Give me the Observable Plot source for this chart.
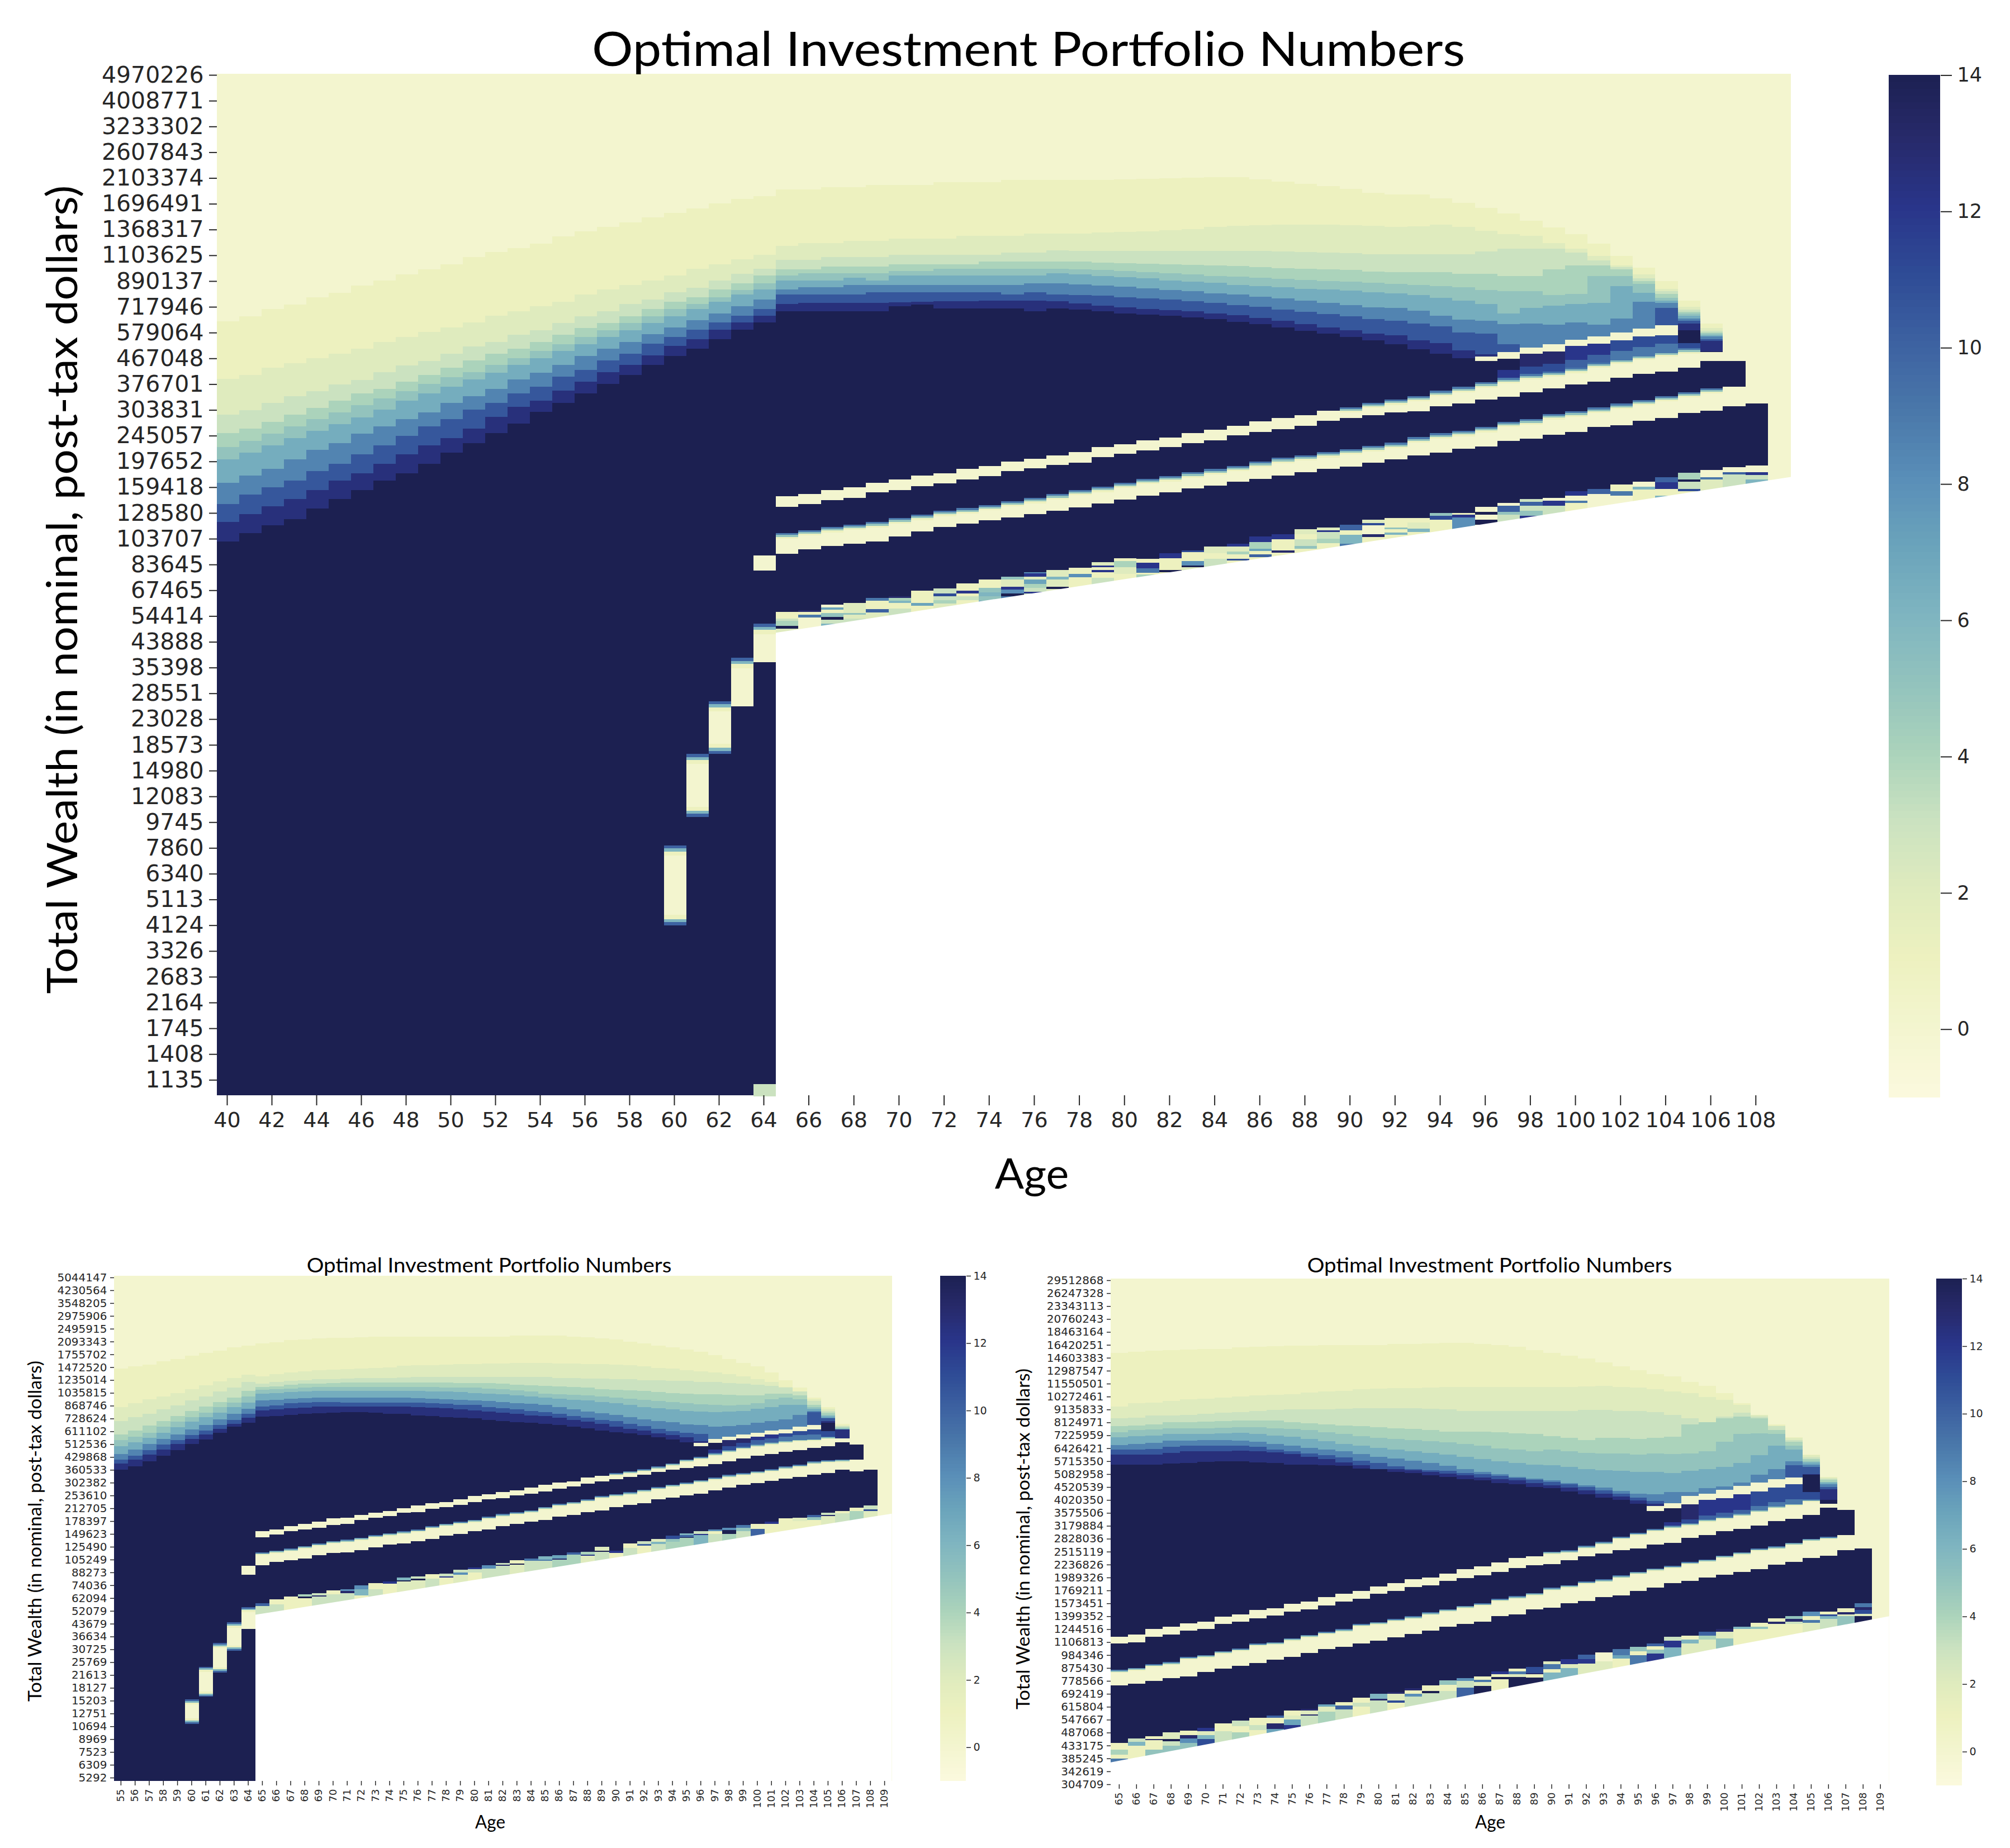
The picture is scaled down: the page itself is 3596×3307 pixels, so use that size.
<!DOCTYPE html>
<html><head><meta charset="utf-8">
<script src="https://cdn.jsdelivr.net/npm/d3@7"></script>
<script src="https://cdn.jsdelivr.net/npm/@observablehq/plot@0.6"></script>
<style>
html,body{margin:0;padding:0;background:#fff}
#page{position:relative;width:3596px;height:3307px;overflow:hidden;background:#fff}
.t{position:absolute;font-family:Lato,"Noto Sans",sans-serif;color:#000;white-space:nowrap;line-height:1}
</style></head><body><div id="page"></div>
<script>
const titleText="Optimal Investment Portfolio Numbers", xText="Age", yText="Total Wealth (in nominal, post-tax dollars)";
const colorStops=[-1,0,1,2,3,4,5,6,7,8,9,10,11,12,13,14];
const colorRamp=["#fbf9dd","#f3f5cf","#edf1bf","#dfebbe","#cbe2c0","#abd3bb","#93c3bd","#7fb5c0","#6ba4bb","#5a8fb8","#4a78aa","#3d62a1","#2f4c96","#29358a","#272a6b","#1c2051"];
const bandValues=[1,2,3,4,5,6.5,8.5,10.5,12.5,14];
const colorbarTicks=[0,2,4,6,8,10,12,14];

/* ---------- large chart: ages 40-109 ---------- */
const mainLabels=["4970226","4008771","3233302","2607843","2103374","1696491","1368317","1103625","890137","717946","579064","467048","376701","303831","245057","197652","159418","128580","103707","83645","67465","54414","43888","35398","28551","23028","18573","14980","12083","9745","7860","6340","5113","4124","3326","2683","2164","1745","1408","1135"];
const mainAgeTicks=[40,42,44,46,48,50,52,54,56,58,60,62,64,66,68,70,72,74,76,78,80,82,84,86,88,90,92,94,96,98,100,102,104,106,108];
const mainC1=[19.13,18.73,18.19,17.83,17.28,16.92,16.36,15.98,15.47,15.08,14.69,14.14,13.75,13.45,13.1,12.55,12.14,11.8,11.44,11.07,10.71,10.35,9.98,9.61,9.41,8.91,8.91,8.72,8.72,8.53,8.53,8.53,8.33,8.33,8.33,8.17,8.17,8.17,8.15,8.13,8.11,8.05,8.0,7.96,7.94,7.94,8.1,8.3,8.44,8.63,8.86,9.13,9.26,9.26,9.6,9.94,10.34,10.76,11.3,11.84,12.37,13.1,14.05,14.97,16.0,17.5,19.31];
const mainC2=[23.6,23.28,22.72,22.36,21.98,21.62,21.26,20.72,20.33,19.97,19.61,19.23,18.7,18.33,17.97,17.61,17.06,16.67,16.31,15.98,15.59,15.04,14.69,14.33,13.95,13.27,13.06,13.06,12.87,12.87,12.7,12.7,12.7,12.51,12.51,12.51,12.33,12.33,12.3,12.25,12.18,12.15,12.04,11.95,11.8,11.72,11.65,11.62,11.6,11.6,11.65,11.72,11.8,11.76,11.64,11.8,12.1,12.37,12.5,13.05,13.5,14.05,14.77,15.5,16.6,18.0,19.65];
const mainC3=[26.36,26.03,25.47,24.92,24.56,24.01,23.66,23.08,22.56,22.2,21.63,21.06,20.72,20.18,19.82,19.27,18.72,18.33,17.78,17.44,16.89,16.53,15.98,15.44,15.05,14.36,14.36,14.14,14.14,14.14,13.97,13.97,13.97,13.97,13.97,13.78,13.78,13.61,13.65,13.65,13.65,13.65,13.65,13.65,13.65,13.65,13.65,13.7,13.75,13.8,13.85,13.9,13.9,13.9,13.9,13.9,13.7,13.5,13.5,13.5,13.8,14.4,14.9,15.8,16.8,18.2,19.85];
const mainC4=[27.8,27.45,26.94,26.36,25.83,25.28,24.73,24.37,23.83,23.28,22.72,22.17,21.63,21.27,20.72,20.18,19.64,19.27,18.72,18.15,17.61,17.25,16.67,16.16,15.59,15.08,15.08,14.89,14.89,14.89,14.69,14.69,14.69,14.69,14.5,14.5,14.5,14.5,14.5,14.55,14.6,14.65,14.7,14.75,14.8,14.85,14.9,15.0,15.05,15.1,15.15,15.25,15.3,15.3,15.3,15.45,15.45,15.6,15.6,15.1,14.77,14.77,15.1,16.0,17.0,18.4,20.0];
const mainC5=[28.89,28.39,27.84,27.26,26.72,26.19,25.64,25.09,24.56,23.98,23.47,23.07,22.53,22.0,21.44,20.89,20.33,19.81,19.27,18.72,18.15,17.78,17.25,16.7,16.16,15.59,15.41,15.41,15.41,15.41,15.23,15.23,15.05,15.05,15.05,15.05,15.05,15.05,15.1,15.15,15.2,15.3,15.4,15.5,15.6,15.65,15.75,15.85,15.9,16.0,16.05,16.15,16.2,16.3,16.4,16.5,16.7,16.77,16.77,17.1,17.0,15.6,15.6,16.2,17.3,18.5,20.1];
const mainC6=[29.83,29.33,28.75,28.21,27.64,27.11,26.58,26.0,25.28,24.73,24.19,23.64,23.11,22.53,22.0,21.44,20.89,20.33,19.81,19.27,18.72,18.15,17.61,17.06,16.67,15.95,15.95,15.95,15.76,15.95,15.59,15.59,15.59,15.59,15.59,15.59,15.59,15.41,15.5,15.6,15.7,15.8,15.95,16.05,16.15,16.3,16.4,16.5,16.6,16.65,16.75,16.85,16.95,17.1,17.3,17.5,17.8,18.5,18.1,17.9,17.8,17.7,16.4,16.9,17.5,18.7,20.2];
const mainC8=[31.67,31.1,30.56,29.83,29.11,28.56,27.84,27.26,26.72,26.19,25.45,24.92,24.37,23.64,23.11,22.53,21.8,21.25,20.72,20.14,19.61,19.06,18.51,17.97,17.42,16.67,16.5,16.5,16.31,16.31,16.31,16.31,16.31,16.31,16.31,16.31,16.17,16.17,16.25,16.35,16.45,16.55,16.7,16.8,16.95,17.05,17.2,17.35,17.5,17.7,17.85,18.05,18.1,18.3,18.7,19.0,19.1,19.35,19.3,19.4,19.2,19.4,18.9,17.6,17.7,18.9,20.3];
const mainC10=[33.3,32.58,32.0,31.47,30.74,30.2,29.47,28.75,28.03,27.3,26.72,26.0,25.45,24.73,24.19,23.4,22.89,22.17,21.62,20.86,20.33,19.78,19.23,18.7,18.15,17.03,17.03,17.03,17.03,16.86,16.86,16.86,16.86,16.86,16.86,17.03,16.86,17.03,17.1,17.15,17.25,17.35,17.45,17.55,17.7,17.85,18.0,18.2,18.4,18.55,18.75,18.95,19.1,19.3,19.5,20.0,20.1,20.9,21.15,20.91,20.55,20.31,20.01,19.71,18.1,19.1,20.5];
const mainC12=[34.7,34.1,33.48,32.94,32.22,31.47,30.92,30.2,29.47,28.75,28.17,27.45,26.54,25.78,25.28,24.52,23.8,23.06,22.53,21.78,21.05,20.5,19.78,19.23,18.7,17.76,17.7,17.68,17.68,17.68,17.64,17.6,17.58,17.58,17.54,17.54,17.54,17.58,17.75,17.9,18.05,18.15,18.25,18.35,18.5,18.65,18.85,19.1,19.35,19.6,19.8,20.1,20.2,20.6,20.8,21.4,21.7,21.51,21.15,20.91,20.55,20.31,20.01,19.71,19.45,19.3,20.65];
const mainC14=[36.2,35.55,34.97,34.46,33.67,32.94,32.22,31.5,30.92,30.2,29.33,28.6,27.8,27.08,26.17,25.45,24.73,24.0,23.28,22.53,21.8,21.27,20.5,19.78,19.23,18.33,18.33,18.33,18.33,18.33,17.97,17.83,18.12,18.12,18.12,18.12,18.33,18.12,18.2,18.35,18.5,18.6,18.7,18.8,18.95,19.15,19.35,19.6,19.85,20.1,20.35,20.6,20.9,21.3,21.65,22.0,21.87,21.51,21.15,20.91,20.55,20.31,20.01,19.71,19.45,19.81,21.45];
const mainStripeA=[[21.87,22.22],[21.51,22.05],[21.15,21.65],[20.91,21.45],[20.55,21.05],[20.31,20.85],[20.01,20.61],[19.71,20.31],[19.45,20.21]];
const mainMid=[14,13,13,12,12,11,11,11];
const mainStripeB=[[32.71,33.51],[32.54,33.33],[32.21,33.01],[32.01,32.84],[31.64,32.41],[31.41,32.21],[31.09,31.91],[30.92,31.71],[30.59,31.39],[30.34,31.14],[30.02,30.77],[29.8,30.54],[29.52,30.27],[29.27,30.1],[28.9,29.65],[28.68,29.42],[28.35,29.15],[28.15,28.9],[27.78,28.6],[27.53,28.35],[27.23,27.98],[26.91,27.73],[26.61,27.48],[26.41,27.23],[26.06,26.86],[25.79,26.61],[25.44,26.41],[25.19,26.21],[24.92,26.12],[24.52,25.72],[24.22,25.52],[23.86,25.18],[23.52,24.98],[23.22,24.62],[23.02,24.32],[22.72,24.02],[22.32,23.82],[22.01,23.52],[21.71,23.22],[21.45,23.02],[21.21,22.72],[21.51,22.22],[21.71,22.22]];
const mainStripeC=[[35.57,37.19],[35.33,36.82],[35.08,36.57],[34.9,36.4],[34.7,36.2],[34.4,35.82],[34.13,35.45],[33.83,35.08],[33.63,34.83],[33.38,34.58],[33.08,34.33],[32.83,34.08],[32.54,33.83],[32.21,33.58],[31.96,33.26],[31.64,32.96],[31.34,32.66],[31.14,32.41],[30.84,32.09],[30.59,31.89],[30.34,31.59],[30.02,31.34],[29.72,31.09],[29.52,30.84],[29.27,30.59],[29.05,30.39],[28.8,30.1],[28.55,29.85],[28.12,29.52],[27.82,29.32],[27.62,29.02],[27.32,28.82],[26.92,28.42],[26.72,28.22],[26.32,27.92],[26.12,27.72],[25.82,27.32],[25.52,27.18],[25.22,26.86],[24.92,26.62],[24.62,26.26],[24.32,26.06],[24.22,25.72]];
const mainColumnStripes=[[60,59.8,66,1],[61,52.7,57.6,1],[62,48.6,52.7,1],[63,45.25,49,0],[64,42.6,45.6,0]];
const mainExtras=[[64,37.3,38.45,0],[64,78.35,79.3,3],[105,20.81,21.21,11]];
const mainTail=[[107,22.22,24.22],[107,25.72,30.46],[108,25.52,30.32]];
const mainEdge=[{age:65,row:43.3},{age:110,row:31.2}];
const mainNoise=[
[65,41.69,1,42.2,3,42.37,4,42.78,14,42.99,2],[66,41.55,13,41.69,1,41.91,9,42.13,0],[67,41.11,0,41.33,7,41.5,1,41.77,5,42.05,14,42.27,3,42.6,6],[68,40.97,2,41.77,5,41.91,2,42.2,3],
[69,40.61,9,40.83,1,41.48,10,41.74,2],[70,40.46,13,40.61,4,40.83,6,40.97,1,41.4,3],[71,40.03,1,40.97,7,41.19,1],[72,39.88,3,40.25,11,40.46,3,40.75,4,41.04,2],
[73,39.48,1,40.03,12,40.25,1,40.46,3,40.75,1],[74,39.16,1,39.81,5,40.17,6,40.46,5,40.83,7],[75,38.95,5,39.16,2,39.71,12,39.96,8,40.25,14,40.46,9],[76,38.58,8,38.7,12,38.95,2,39.16,7,39.52,4,39.81,3,40.1,12,40.25,3],
[77,38.44,2,38.95,6,39.16,2,39.71,14,39.89,2],[78,38.25,1,38.73,8,38.99,1],[79,37.82,2,38.08,12,38.22,1,38.44,12,38.61,1,39.02,3],[80,37.5,1,37.72,4,38.22,2,38.73,1],
[81,37.43,14,37.54,1,37.86,12,38.3,9,38.66,1,38.76,4],[82,37.14,12,37.5,1,38.44,14,38.58,1],[83,36.92,11,37.02,1,37.72,8,38.08,14,38.22,2],[84,36.59,2,37.14,1,37.57,3],
[85,36.41,12,36.59,2,36.99,4,37.21,1,37.54,11,37.69,1],[86,35.84,12,36.24,4,36.78,7,36.96,1,37.21,10,37.43,1],[87,35.66,12,36.05,1,36.92,13,37.1,1],[88,35.26,2,35.66,1,36.05,3,36.56,5,36.78,1],
[89,35.11,2,35.33,12,35.47,3,35.98,4,36.34,1],[90,34.9,10,35.33,1,35.69,6,36.41,9],[91,34.53,2,34.78,11,34.94,0,35.65,13,35.86,1],[92,34.39,1,35.11,5,35.26,1,35.52,6,35.69,1],
[93,34.39,1,34.73,2,35.23,6,35.47,1],[94,33.99,5,34.23,11,34.53,1],[95,33.99,1,34.13,12,34.37,8],[96,33.53,0,33.93,14,34.13,0,34.53,14,34.93,1],
[97,33.23,0,33.43,10,33.93,5,34.13,3],[98,32.93,3,33.13,10,33.43,3,33.83,5,34.23,12],[99,32.83,0,33.07,12,33.43,3],[100,32.33,12,32.67,0,33.03,9,33.23,1],
[101,32.13,10,32.53,0],[102,31.78,1,32.33,9,32.67,0],[103,31.58,0,31.98,6,32.18,1],[104,31.22,10,31.62,12,32.13,1,32.67,6],
[105,30.86,4,31.38,14,31.58,3,32.13,11,32.33,1],[106,30.66,0,31.22,9,31.42,2],[107,30.46,0,30.82,10,31.02,3],[108,30.32,0,30.82,12,31.06,3,31.42,6]];

/* ---------- lower left chart: ages 55-109 ---------- */
const leftLabels=["5044147","4230564","3548205","2975906","2495915","2093343","1755702","1472520","1235014","1035815","868746","728624","611102","512536","429868","360533","302382","253610","212705","178397","149623","125490","105249","88273","74036","62094","52079","43679","36634","30725","25769","21613","18127","15203","12751","10694","8969","7523","6309","5292"];
const leftC1=[7.1,6.95,6.8,6.55,6.35,6.1,5.9,5.7,5.45,5.3,5.15,5.05,4.9,4.85,4.75,4.7,4.7,4.65,4.6,4.6,4.6,4.6,4.6,4.6,4.6,4.6,4.6,4.6,4.55,4.55,4.55,4.55,4.6,4.65,4.75,4.85,5.0,5.15,5.3,5.45,5.6,5.8,6.05,6.35,6.65,6.95,7.4,8.0,8.6,9.35,10.1,11.4];
const leftC2=[10.1,9.8,9.5,9.3,9.0,8.7,8.4,8.1,7.85,7.6,7.7,7.55,7.4,7.3,7.25,7.2,7.15,7.1,7.05,7.0,6.9,6.85,6.85,6.8,6.75,6.75,6.7,6.7,6.65,6.65,6.65,6.7,6.7,6.75,6.75,6.8,6.85,6.95,7.05,7.1,7.25,7.3,7.4,7.55,7.7,7.95,8.15,8.55,8.9,9.5,10.25,11.55];
const leftC3=[11.2,10.9,10.65,10.3,10.0,9.6,9.3,8.9,8.6,8.15,8.3,8.15,8.05,8.0,7.95,7.95,7.9,7.85,7.85,7.85,7.8,7.75,7.75,7.75,7.75,7.75,7.75,7.75,7.75,7.75,7.75,7.85,7.85,7.9,7.9,7.95,7.95,8.0,8.0,8.05,8.05,8.15,8.15,8.25,8.3,8.35,8.45,8.6,8.9,9.65,10.4,11.6];
const leftC4=[12.25,11.95,11.55,11.2,10.8,10.4,10.05,9.7,9.35,8.85,8.55,8.5,8.35,8.3,8.3,8.25,8.2,8.2,8.2,8.2,8.2,8.2,8.2,8.2,8.25,8.25,8.25,8.3,8.35,8.4,8.45,8.5,8.55,8.6,8.7,8.75,8.8,8.85,8.95,9.0,9.05,9.1,9.1,9.15,9.2,9.2,9.05,9.05,9.2,9.95,10.55,11.7];
const leftC5=[12.7,12.4,12.1,11.65,11.25,10.9,10.55,10.1,9.75,9.3,8.75,8.7,8.65,8.6,8.55,8.55,8.55,8.55,8.55,8.55,8.55,8.55,8.55,8.6,8.6,8.6,8.65,8.7,8.8,8.9,9.05,9.1,9.15,9.2,9.3,9.35,9.45,9.55,9.65,9.7,9.8,9.9,9.95,10.0,9.95,9.8,9.5,9.35,9.5,10.1,10.7,11.75];
const leftC6=[13.15,12.85,12.5,12.1,11.7,11.25,10.9,10.55,10.1,9.75,9.05,9.0,8.95,8.9,8.85,8.85,8.85,8.85,8.85,8.85,8.85,8.85,8.9,8.9,8.95,9.0,9.05,9.1,9.2,9.3,9.35,9.45,9.55,9.6,9.7,9.8,9.95,10.1,10.2,10.3,10.4,10.45,10.5,10.45,10.4,10.25,10.1,9.95,9.95,10.25,10.8,11.8];
const leftC8=[13.75,13.4,13.0,12.6,12.25,11.85,11.5,11.05,10.65,10.25,9.6,9.55,9.45,9.4,9.35,9.35,9.35,9.35,9.35,9.35,9.35,9.4,9.45,9.5,9.55,9.6,9.65,9.7,9.8,9.85,9.95,10.1,10.3,10.45,10.6,10.7,10.9,11.05,11.2,11.3,11.45,11.5,11.65,11.6,11.5,11.35,11.2,11.05,10.7,10.4,10.95,11.85];
const leftC10=[14.2,13.9,13.45,13.05,12.7,12.3,11.95,11.5,11.1,10.65,10.05,10.0,9.8,9.75,9.7,9.7,9.75,9.75,9.75,9.75,9.75,9.75,9.8,9.85,9.95,9.95,10.1,10.2,10.3,10.4,10.5,10.65,10.8,10.95,11.1,11.2,11.4,11.6,11.8,12.0,12.1,12.2,12.6,12.4,12.25,12.1,11.95,11.85,11.65,10.5,11.0,11.7];
const leftC12=[14.5,14.2,13.8,13.4,13.0,12.6,12.25,11.8,11.4,10.95,10.35,10.3,10.2,10.15,10.05,10.05,10.05,10.05,10.05,10.05,10.05,10.1,10.15,10.2,10.3,10.35,10.45,10.55,10.65,10.75,10.8,10.95,11.1,11.25,11.4,11.65,11.8,11.95,12.15,12.3,12.45,12.75,12.6,12.4,12.25,12.1,11.95,11.85,11.65,11.5,11.2,11.85];
const leftC14=[15.0,14.75,14.35,13.9,13.45,13.0,12.65,12.1,11.65,11.35,10.85,10.8,10.7,10.65,10.6,10.55,10.5,10.5,10.55,10.65,10.65,10.75,10.8,10.9,10.95,11.0,11.1,11.2,11.3,11.35,11.4,11.5,11.65,11.75,11.95,12.05,12.15,12.3,12.45,12.65,12.85,12.9,12.6,12.4,12.25,12.1,11.95,11.85,11.65,11.5,11.35,12.55];
const leftStripeA=[[12.9,13.15],[12.6,12.9],[12.4,12.7],[12.25,12.55],[12.1,12.4],[11.95,12.25],[11.85,12.15],[11.65,12.0],[11.5,11.85]];
const leftMid=[14,13,13,12,12,11,11,11];
const leftStripeB=[[19.8,20.25],[19.65,20.05],[19.4,19.8],[19.2,19.65],[19.05,19.5],[18.8,19.3],[18.75,19.2],[18.5,18.9],[18.35,18.75],[18.2,18.6],[18.0,18.35],[17.8,18.3],[17.6,18.05],[17.5,17.9],[17.3,17.75],[17.05,17.5],[16.9,17.3],[16.75,17.2],[16.6,17.0],[16.4,16.85],[16.15,16.7],[16.0,16.45],[15.9,16.3],[15.6,16.1],[15.45,15.9],[15.25,15.75],[15.1,15.55],[14.95,15.4],[14.75,15.15],[14.5,15.0],[14.2,14.85],[14.0,14.75],[13.7,14.55],[13.45,14.35],[13.2,14.1],[13.0,13.9],[12.85,13.75],[12.7,13.6],[12.6,13.45],[12.55,13.3],[12.4,13.15],[12.55,12.85],[12.85,13.05]];
const leftStripeC=[[21.45,22.45],[21.3,22.2],[21.15,22.05],[20.95,21.9],[20.75,21.65],[20.55,21.5],[20.45,21.45],[20.3,21.25],[20.1,21.05],[19.95,20.85],[19.8,20.75],[19.65,20.55],[19.4,20.4],[19.2,20.15],[19.05,20.0],[18.9,19.8],[18.65,19.65],[18.45,19.4],[18.3,19.2],[18.15,19.05],[17.9,18.9],[17.65,18.65],[17.5,18.5],[17.3,18.3],[17.05,18.15],[16.9,17.9],[16.75,17.75],[16.55,17.6],[16.35,17.3],[16.15,17.15],[16.0,17.0],[15.8,16.85],[15.6,16.6],[15.4,16.4],[15.25,16.15],[15.1,16.05],[14.95,15.85],[14.75,15.7],[14.6,15.55],[14.35,15.4],[14.25,15.25],[14.2,15.0],[14.2,15.1]];
const leftColumnStripes=[[60,32.9,34.8,1],[61,30.35,32.7,1],[62,28.5,30.8,1],[63,26.9,29.1,1],[64,25.7,27.4,0]];
const leftExtras=[[64,22.5,23.2,0],[105,12.0,12.4,11]];
const leftTail=[[107,13.05,14.2],[107,15.1,17.95],[108,15.0,17.8]];
const leftEdge=[{age:65,row:26.3},{age:110,row:18.42}];
const leftNoise=[
[65,25.4,10,25.6,3],[66,25.1,1,25.5,3],[67,24.9,1,25.4,1],[68,24.7,4,24.9,14,25.0,1],[69,24.6,3,24.8,13,24.9,3],[70,24.4,1,24.7,3],[71,24.3,8,24.45,13,24.6,3],[72,24.0,8,24.3,6,24.8,1],[73,23.85,1,24.3,3],[74,23.7,12,23.9,1],
[75,23.4,6,23.6,14,23.7,2],[76,23.3,3,23.5,14,23.6,2],[77,23.15,1,23.5,3],[78,23.0,14,23.1,3,23.3,12,23.4,1],[79,22.8,3,23.0,8,23.2,2],[80,22.6,12,22.75,3,23.0,1],[81,22.45,8,22.7,3],[82,22.25,3,22.4,13,22.5,3],[83,22.05,1,22.3,14,22.4,2],[84,21.9,9,22.1,3],
[85,21.75,6,22.0,9,22.1,3],[86,21.65,7,21.9,13,22.0,4],[87,21.45,10,21.6,4],[88,21.3,14,21.4,4,21.6,12,21.7,2],[89,21.0,2,21.3,14,21.4,3],[90,20.9,14,21.3,12,21.5,1],[91,20.75,1,21.1,3],[92,20.55,3,20.8,10,20.9,1],[93,20.4,2,20.6,6,20.8,3],[94,20.15,11,20.4,5,20.6,4],
[95,19.95,6,20.1,10,20.25,14,20.3,4],[96,19.8,3,20.0,12,20.1,6],[97,19.65,8,19.8,1,20,3],[98,19.5,8,19.7,14,20,4],[99,19.3,9,19.5,5,19.8,3],[100,19.2,1,19.6,10],[101,19.05,12,19.2,1],[102,18.8,1],[103,18.75,2,19,1],[104,18.5,10,18.7,5,18.9,1],
[105,18.35,3,18.5,13,18.6,2],[106,18.2,1,18.4,3],[107,17.95,1,18.2,4],[108,17.8,3,18.1,11,18.2,2]];

/* ---------- lower right chart: ages 65-109 ---------- */
const rightLabels=["29512868","26247328","23343113","20760243","18463164","16420251","14603383","12987547","11550501","10272461","9135833","8124971","7225959","6426421","5715350","5082958","4520539","4020350","3575506","3179884","2828036","2515119","2236826","1989326","1769211","1573451","1399352","1244516","1106813","984346","875430","778566","692419","615804","547667","487068","433175","385245","342619","304709"];
const rightC1=[5.6,5.55,5.45,5.4,5.35,5.3,5.3,5.2,5.15,5.1,5.05,5.05,5.0,5.0,5.0,5.0,4.95,4.95,4.9,4.85,4.85,4.95,5.0,5.15,5.4,5.6,5.85,6.05,6.35,6.65,6.95,7.25,7.45,7.85,8.15,8.75,9.5,10.4,11.15,12.15,13.5,15.2];
const rightC2=[9.75,9.5,9.45,9.35,9.2,9.15,9.1,9.0,8.9,8.85,8.8,8.7,8.6,8.55,8.45,8.4,8.35,8.35,8.3,8.25,8.25,8.25,8.25,8.25,8.25,8.25,8.25,8.2,8.15,8.25,8.3,8.45,8.6,8.75,9.05,9.25,9.65,10.4,11.25,12.2,13.55,15.25];
const rightC3=[10.7,10.65,10.45,10.45,10.4,10.35,10.25,10.2,10.1,10.05,10.0,10.0,10.0,9.95,9.9,9.9,9.9,9.9,9.95,10.0,10.1,10.1,10.1,10.1,10.1,10.1,10.1,10.05,10.05,10.1,10.1,10.2,10.4,10.7,11.0,10.55,10.25,10.55,11.3,12.35,13.7,15.35];
const rightC4=[11.3,11.25,11.15,11.0,11.0,10.95,10.9,10.85,10.85,10.85,11.0,11.05,11.15,11.25,11.3,11.35,11.45,11.5,11.6,11.7,11.7,11.7,11.75,11.85,11.9,12.05,12.2,12.35,12.2,12.2,12.3,12.2,12.1,11.15,11.0,10.7,10.55,10.7,11.6,12.5,13.85,15.45];
const rightC5=[11.75,11.6,11.55,11.45,11.45,11.45,11.4,11.35,11.35,11.45,11.5,11.6,11.75,11.9,12.05,12.2,12.3,12.35,12.45,12.55,12.65,12.8,13.0,13.1,13.25,13.1,13.25,13.35,13.4,13.4,13.5,13.4,13.45,13.4,13.25,12.5,11.9,11.85,11.9,12.8,14.0,15.6];
const rightC6=[12.15,12.05,12.0,11.9,11.9,11.9,11.85,11.8,11.9,12.0,12.1,12.3,12.45,12.65,12.8,12.95,13.1,13.25,13.35,13.5,13.65,13.85,14.0,14.15,14.25,14.3,14.45,14.6,14.7,14.75,14.85,14.85,14.9,14.75,14.6,14.45,14.15,13.55,12.8,13.1,14.1,15.65];
const rightC8=[12.75,12.65,12.6,12.4,12.4,12.35,12.35,12.4,12.5,12.65,12.8,12.95,13.1,13.25,13.45,13.65,13.8,13.95,14.15,14.35,14.6,14.85,15.0,15.2,15.35,15.5,15.7,15.85,16.05,16.3,16.5,16.55,16.4,16.4,16.1,15.95,15.65,15.05,14.6,14.0,14.25,15.8];
const rightC10=[13.1,13.1,13.05,12.9,12.8,12.8,12.8,12.8,12.9,13.1,13.25,13.4,13.55,13.7,13.95,14.15,14.4,14.6,14.7,14.75,14.9,15.0,15.15,15.3,15.45,15.6,15.8,16.0,16.25,16.5,16.8,17.1,17.25,16.7,16.5,16.2,15.9,15.65,15.4,14.3,14.45,16.0];
const rightC12=[13.5,13.5,13.5,13.35,13.25,13.25,13.25,13.2,13.25,13.3,13.45,13.65,13.85,14.1,14.3,14.6,14.6,14.7,14.85,14.95,15.1,15.25,15.4,15.5,15.7,15.85,16.05,16.25,16.5,16.75,17.05,17.3,17.15,16.7,16.5,16.2,15.9,15.65,15.4,15.25,15.0,16.15];
const rightC14=[14.25,14.25,14.25,14.2,14.15,14.05,14.0,14.0,14.1,14.15,14.25,14.25,14.3,14.35,14.55,14.6,14.85,14.9,15.1,15.2,15.4,15.5,15.7,15.8,16.0,16.1,16.35,16.55,16.8,17.0,17.3,17.45,17.25,16.7,16.5,16.2,15.9,15.65,15.4,15.25,15.05,17.0];
const rightStripeA=[[17.45,17.85],[17.25,17.65],[16.7,17.35],[16.5,17.0],[16.2,16.85],[15.9,16.55],[15.65,16.35],[15.4,16.05],[15.25,15.8]];
const rightMid=[14,13,12,12,12,11,11,11];
const rightStripeB=[[27.6,28.1],[27.4,28.0],[27.0,27.6],[26.8,27.4],[26.55,27.1],[26.4,27.0],[26.05,26.6],[25.85,26.4],[25.5,26.15],[25.4,25.95],[25.05,25.65],[24.85,25.45],[24.5,25.15],[24.25,24.85],[24.05,24.65],[23.7,24.25],[23.45,24.05],[23.15,23.75],[23.0,23.6],[22.7,23.25],[22.35,23.05],[22.15,22.85],[21.85,22.55],[21.5,22.25],[21.35,22.05],[21.0,21.95],[20.9,21.65],[20.55,21.35],[20.25,21.15],[19.85,20.9],[19.55,20.75],[19.25,20.45],[19.0,20.3],[18.8,19.95],[18.5,19.7],[18.3,19.4],[18.05,19.25],[17.75,19.0],[17.45,18.65],[17.25,18.45],[16.95,18.15],[17.3,17.6],[17.45,17.75]];
const rightStripeC=[[30.15,31.35],[30.0,31.2],[29.7,31.0],[29.55,30.8],[29.15,30.65],[29.0,30.3],[28.7,30.05],[28.5,29.85],[28.1,29.6],[28.0,29.35],[27.7,29.15],[27.45,28.85],[27.2,28.55],[27.0,28.35],[26.6,28.1],[26.45,27.9],[26.2,27.65],[26.0,27.35],[25.7,27.1],[25.45,26.8],[25.2,26.6],[25.0,26.4],[24.65,26.0],[24.45,25.85],[24.2,25.45],[23.8,25.35],[23.6,25.0],[23.3,24.8],[23.15,24.5],[22.85,24.4],[22.55,24.05],[22.3,23.8],[22.1,23.45],[21.8,23.25],[21.6,23.0],[21.3,22.8],[21.05,22.55],[20.75,22.35],[20.6,22.0],[20.3,21.8],[20.0,21.5],[19.85,21.3],[19.7,20.9]];
const rightColumnStripes=[];
const rightExtras=[[105,16.4,16.95,11]];
const rightTail=[[107,17.75,19.7],[107,20.9,25.4],[108,20.76,25.0]];
const rightEdge=[{age:65,row:37.3},{age:110,row:26.0}];
const rightNoise=[
[65,35.8,1,36.3,4,36.7,1,37,9],[66,35.45,3,35.7,6,36,1],[67,35.3,1,35.5,13,35.6,1,36.3,5],[68,35,2,35.5,14,35.65,3,36,5],[69,34.85,1,35.2,13,35.45,8,35.8,5],[70,34.65,12,34.9,2,35.2,6,35.5,11],[71,34.3,1,34.9,3],[72,34.05,3,34.5,1,35,4],[73,33.85,1,34.4,3,34.8,1],[74,33.7,10,33.85,1,34.3,13,34.7,7],
[75,33.3,1,33.7,2,34,7,34.4,12],[76,33.15,13,33.3,2,33.6,13,33.7,3],[77,32.8,7,33,2,33.4,4],[78,32.65,1,32.9,10,33.2,3],[79,32.3,1,32.7,3,33,1],[80,32,6,32.4,13,32.5,3],[81,31.85,13,32,2,32.5,11,32.7,1],[82,31.55,13,31.75,1,32,8,32.2,3],[83,31.35,1,31.8,14,31.95,3],[84,30.95,5,31.3,1,31.8,3],
[85,30.8,8,31,3,31.5,10],[86,30.65,1,30.9,9,31.1,2,31.4,14],[87,30.25,12,30.5,1,30.7,14,30.85,1],[88,30.05,1,30.25,9,30.5,2,30.7,14],[89,29.9,11,30.4,13,30.5,1,30.75,14],[90,29.5,2,29.7,9,30.1,1,30.35,6],[91,29.3,12,29.7,2,30,6],[92,28.95,10,29.3,12,29.65,2],[93,28.8,0,29.5,2],[94,28.55,9,29,7,29.25,1],
[95,28.35,5,28.7,1,29,9],[96,28.1,10,28.3,1,28.6,5,28.9,12],[97,27.6,3,27.9,12,28.4,6],[98,27.5,1,27.8,6,28.1,2],[99,27.2,10,27.5,4,27.8,2],[100,27,13,27.2,2,27.7,5],[101,26.8,6,27,1],[102,26.5,1,26.8,5,27,1],[103,26.15,1,26.4,13,26.6,1],[104,26,5,26.2,13,26.4,3,26.6,1],
[105,25.65,8,26,1,26.3,9,26.5,2],[106,25.65,1,25.85,11,26,6,26.2,3],[107,25.4,1,25.7,13,25.85,2,26,5],[108,25,9,25.3,13,25.5,11,25.8,2,26,14]];

const colorScale={type:"linear",domain:colorStops,range:colorRamp,clamp:true};
const page=document.getElementById("page");

function buildCells(c){
  const cells=[];
  const add=(age,y1,y2,v)=>{ if(y2>y1) cells.push({age,y1,y2,v}); };
  const [r0,r1]=c.rows;
  for(let age=c.firstAge;age<=109;age++){
    const i=age-c.firstAge;
    if(i<c.contours[0].length){
      let y=r0,v=0;
      c.contours.forEach((arr,k)=>{const t=Math.max(y,arr[i]);add(age,y,t,v);y=t;v=bandValues[k];});
      add(age,y,r1,v);
    } else add(age,r0,r1,0);
  }
  const f=0.1*c.step;
  const stripe=(age,top,bot,fringe)=>{
    if(fringe){add(age,top,bot,9);add(age,top+f*0.7,bot,5);add(age,top+f*1.4,bot,1);add(age,top+f*2.1,bot,0);}
    else add(age,top,bot,0);
  };
  c.colStripes.forEach(([age,t,b,low])=>{
    const k=low?1:0;
    add(age,t,b,10);add(age,t+f*1.2,b-k*f*1.2,6);add(age,t+f*2.4,b-k*f*2.4,1);add(age,t+f*4,b-k*f*4,0);
  });
  c.stripeB.forEach((s,i)=>{
    const age=65+i;
    if(age>=97&&age<=104){
      const a=c.stripeA[age-96];
      add(age,a[1],s[0],c.mid[age-97]);
      add(age,s[0]-0.3*c.step,s[0],c.mid[age-97]-2);
    }
    stripe(age,s[0],s[1],age>=90&&age<=105);
  });
  c.stripeA.forEach((s,i)=>stripe(96+i,s[0],s[1],false));
  c.stripeC.forEach((s,i)=>stripe(65+i,s[0],s[1],65+i<107));
  c.tail.forEach(([age,t,b])=>add(age,t,b,14));
  c.extras.forEach(([age,t,b,v])=>add(age,t,b,v));
  c.noise.forEach(row=>{
    const age=row[0];
    for(let j=1;j<row.length;j+=2){
      const next=j+2<row.length?row[j+2]:r1;
      add(age,row[j],next,row[j+1]);
    }
  });
  return cells;
}

function drawHeat(c){
  const cells=buildCells(c);
  const m=c.margin;
  const W=c.box[1]-c.box[0], H=c.box[3]-c.box[2];
  const yTicks=c.labels.map((_,i)=>i*c.step);
  const xTicks=c.xTicks.map(a=>a+c.tickOffset);
  const fig=Plot.plot({
    width:W+m.left+m.right, height:H+m.top+m.bottom,
    marginLeft:m.left, marginRight:m.right, marginTop:m.top, marginBottom:m.bottom,
    style:{position:"absolute",left:(c.box[0]-m.left)+"px",top:(c.box[2]-m.top)+"px",fontFamily:"'DejaVu Sans'",background:"transparent",overflow:"visible",color:"#262626"},
    x:{type:"linear",domain:c.xDomain,range:c.xDomain.map(c.xPos).map(p=>p-c.box[0]+m.left)},
    y:{type:"linear",domain:[c.rows[1],c.rows[0]]},
    color:colorScale,
    marks:[
      Plot.rect(cells,{x1:"age",x2:d=>d.age+1,y1:"y1",y2:"y2",fill:"v",shapeRendering:"crispEdges"}),
      Plot.areaY(c.edge,{x:"age",y1:"row",y2:()=>c.rows[1]+0.1,fill:"#fff"}),
      Plot.axisY({anchor:"left",ticks:yTicks,tickFormat:d=>c.labels[Math.round(d/c.step)],tickSize:c.tickLen,tickPadding:c.tickPad,fontSize:c.yFont,strokeWidth:c.tickW,label:null,stroke:"#262626",fill:"#262626"}),
      Plot.axisX({anchor:"bottom",ticks:xTicks,tickFormat:d=>String(Math.floor(d)),tickSize:c.tickLen+c.xTickExtra,tickPadding:c.xTickPad,fontSize:c.xFont,strokeWidth:c.tickW,tickRotate:c.xRotate,label:null,stroke:"#262626",fill:"#262626"})
    ]
  });
  page.appendChild(fig);
}

function drawBar(b){
  const m={left:0,right:90,top:6,bottom:6};
  const steps=d3.range(-1,14,0.1);
  const fig=Plot.plot({
    width:b.x[1]-b.x[0]+m.right,height:b.y[1]-b.y[0]+m.top+m.bottom,
    marginLeft:0,marginRight:m.right,marginTop:m.top,marginBottom:m.bottom,
    style:{position:"absolute",left:b.x[0]+"px",top:(b.y[0]-m.top)+"px",fontFamily:"'DejaVu Sans'",background:"transparent",overflow:"visible",color:"#262626"},
    x:{domain:[0,1],axis:null},
    y:{domain:b.domain},
    color:colorScale,
    marks:[
      Plot.rect(steps,{x1:0,x2:1,y1:d=>d,y2:d=>Math.min(14,d+0.11),fill:d=>d,shapeRendering:"crispEdges"}),
      Plot.axisY({anchor:"right",ticks:colorbarTicks,tickSize:b.tick,tickPadding:b.pad,fontSize:b.font,strokeWidth:b.sw,label:null,stroke:"#262626",fill:"#262626"})
    ]
  });
  page.appendChild(fig);
}

function text(str,cx,cy,size,rotate,target){
  const d=document.createElement("div");
  d.className="t";d.textContent=str;d.style.fontSize=size+"px";
  d.style.left=cx+"px";d.style.top=cy+"px";
  page.appendChild(d);
  const sx=target?target/d.offsetWidth:1;
  d.style.transform=`translate(-50%,-50%) rotate(${rotate||0}deg) scaleX(${sx})`;
}

const charts=[
 {firstAge:40,step:2,labels:mainLabels,xTicks:mainAgeTicks,tickOffset:0.45,rows:[-0.09,79.2],box:[388,3204,132,1960],
  xDomain:[40,65,109,110],xPos:a=>a<=65?388+(a-40)*40:a<=109?1388+(a-65)*40.34:3204,
  contours:[mainC1,mainC2,mainC3,mainC4,mainC5,mainC6,mainC8,mainC10,mainC12,mainC14],
  stripeA:mainStripeA,mid:mainMid,stripeB:mainStripeB,stripeC:mainStripeC,colStripes:mainColumnStripes,extras:mainExtras,tail:mainTail,edge:mainEdge,noise:mainNoise,
  margin:{left:270,right:10,top:20,bottom:90},tickLen:14,tickPad:10,tickW:2,yFont:41,xFont:38,xTickExtra:4,xTickPad:12,xRotate:0},
 {firstAge:55,step:1,labels:leftLabels,xTicks:d3.range(55,110),tickOffset:0.47,rows:[-0.13,39.26],box:[204,1595,2283,3187],
  xDomain:[55,110],xPos:a=>204+(a-55)*25.3,
  contours:[leftC1,leftC2,leftC3,leftC4,leftC5,leftC6,leftC8,leftC10,leftC12,leftC14],
  stripeA:leftStripeA,mid:leftMid,stripeB:leftStripeB,stripeC:leftStripeC,colStripes:leftColumnStripes,extras:leftExtras,tail:leftTail,edge:leftEdge,noise:leftNoise,
  margin:{left:130,right:10,top:10,bottom:70},tickLen:7,tickPad:6,tickW:1.5,yFont:20,xFont:18,xTickExtra:1,xTickPad:6,xRotate:-90},
 {firstAge:65,step:1,labels:rightLabels,xTicks:d3.range(65,110),tickOffset:0.48,rows:[-0.13,39.0],box:[1987,3380,2288,3193],
  xDomain:[65,110],xPos:a=>1987+(a-65)*30.95,
  contours:[rightC1,rightC2,rightC3,rightC4,rightC5,rightC6,rightC8,rightC10,rightC12,rightC14],
  stripeA:rightStripeA,mid:rightMid,stripeB:rightStripeB,stripeC:rightStripeC,colStripes:rightColumnStripes,extras:rightExtras,tail:rightTail,edge:rightEdge,noise:rightNoise,
  margin:{left:140,right:10,top:10,bottom:70},tickLen:7,tickPad:6,tickW:1.5,yFont:20,xFont:18,xTickExtra:1,xTickPad:6,xRotate:-90}
];
charts.forEach(drawHeat);

[{x:[3379,3471],y:[132,1960],domain:[-0.97,14.02],tick:20,pad:10,font:35,sw:2},
 {x:[1682,1728],y:[2283,3187],domain:[-1,14],tick:8,pad:5,font:19,sw:1.5},
 {x:[3464,3510],y:[2288,3195],domain:[-1,14],tick:8,pad:5,font:19,sw:1.5}].forEach(drawBar);

text(titleText,1840,85,85,0,1562);
text(titleText,875,2263,36,0,653);
text(titleText,2665,2263,36,0,653);
text(xText,1846,2098,76,0,133);
text(xText,877,3260,32,0,54);
text(xText,2666,3260,32,0,54);
text(yText,109,1055,76,-90,1447);
text(yText,61,2740,33,-90,610);
text(yText,1829,2754,33,-90,610);
</script></body></html>
